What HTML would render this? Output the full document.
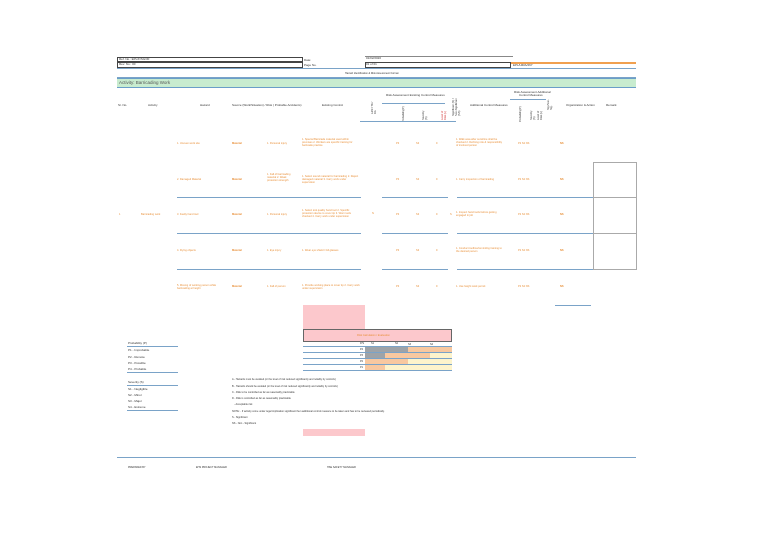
<!DOCTYPE html>
<html><head><meta charset="utf-8"><style>
body{margin:0;width:768px;height:543px;background:#fff;position:relative;overflow:hidden;font-family:"Liberation Sans",sans-serif;}
div{position:absolute;box-sizing:border-box;}
.t{font-size:3px;color:#333;white-space:nowrap;line-height:3px}
.o{font-size:2.6px;color:#e8903a;line-height:3px}
.bl{height:1px;background:#7aa3c8}
.v{writing-mode:vertical-rl;transform:rotate(180deg);font-size:2.6px;color:#333;line-height:3px}
</style></head><body>
<!-- header -->
<div style="left:117px;top:57px;width:186px;height:5px;border:1px solid #444"></div>
<div class="t" style="left:119px;top:58px">Ref. No.: EPL/F/SG/30</div>
<div class="t" style="left:304px;top:59px">Date:</div>
<div style="left:365px;top:56px;width:148px;height:6px;border-top:1px solid #888"></div>
<div class="t" style="left:366px;top:57px">01/02/2020</div>
<div style="left:117px;top:62px;width:186px;height:6px;border:1px solid #444"></div>
<div class="t" style="left:119px;top:63px">Rev. No.: 00</div>
<div class="t" style="left:304px;top:64px">Page No.</div>
<div style="left:365px;top:62px;width:146px;height:6px;border:1px solid #444"></div>
<div class="t" style="left:366px;top:63px">01 of 01</div>
<div style="left:511px;top:62px;width:125px;height:2px;background:#f0a050"></div>
<div class="t" style="left:513px;top:64px">EPL/HIRA/267</div>
<div class="bl" style="left:117px;top:68px;width:519px"></div>
<div class="t" style="left:345px;top:72px;font-size:2.5px">Hazard Identification &amp; Risk Assessment Format</div>
<div class="bl" style="left:117px;top:77px;width:519px"></div>
<div style="left:117px;top:78px;width:519px;height:10px;background:#c8eccf;border-top:1px solid #6a9ec8;border-bottom:1px solid #6a9ec8"></div>
<div class="t" style="left:119px;top:81px;font-size:4.5px;line-height:4px;color:#555">Activity: Barricading Work</div>
<!-- column headers -->
<div class="t" style="left:118px;top:104px">Sr. No.</div>
<div class="t" style="left:148px;top:104px">Activity</div>
<div class="t" style="left:200px;top:104px">Hazard</div>
<div class="t" style="left:232px;top:104px">Source (Work/Situation) / Risk ( Probable Accidents)</div>
<div class="t" style="left:322px;top:104px">Existing Control</div>
<div class="v" style="left:371px;top:98px;height:16px">L&amp;M / TK / RA</div>
<div class="t" style="left:386px;top:94px">Risk Assessment Existing Control Measures</div>
<div class="bl" style="left:382px;top:103px;width:63px"></div>
<div class="v" style="left:402px;top:108px;height:14px">Probability(P)</div>
<div class="v" style="left:422px;top:110px;height:10px">Severity (S)</div>
<div class="v" style="left:441px;top:110px;height:10px;color:#d03030">Level of Risk (L)</div>
<div class="v" style="left:452px;top:94px;height:22px">Significant (S) / Non-Significant (NS)</div>
<div class="t" style="left:470px;top:104px">Additional Control Measures</div>
<div class="t" style="left:514px;top:91px">Risk Assessment Additional</div>
<div class="t" style="left:519px;top:94px">Control Measures</div>
<div class="bl" style="left:510px;top:99px;width:36px"></div>
<div class="v" style="left:519px;top:108px;height:14px">Probability(P)</div>
<div class="v" style="left:530px;top:110px;height:10px">Severity (S)</div>
<div class="v" style="left:537px;top:110px;height:10px">Level of Risk (L)</div>
<div class="v" style="left:547px;top:96px;height:14px">Sig./Non-Sig.</div>
<div class="t" style="left:566px;top:104px">Organization &amp; Action</div>
<div class="t" style="left:606px;top:104px">Remark</div>
<div class="bl" style="left:360px;top:121px;width:96px"></div>
<!-- rows -->
<div class="o" style="left:177px;top:142px">1. Uneven work site</div>
<div class="o" style="left:177px;top:178px">2. Damaged Material</div>
<div class="o" style="left:177px;top:213px">3. Faulty hand tool</div>
<div class="o" style="left:177px;top:249px">4. Flying objects</div>
<div class="o" style="left:177px;top:284px;width:52px;white-space:normal">5. Moving of working person while barricading at height</div>
<div class="o" style="left:232px;top:142px;font-weight:bold">Material</div>
<div class="o" style="left:232px;top:178px;font-weight:bold">Material</div>
<div class="o" style="left:232px;top:213px;font-weight:bold">Material</div>
<div class="o" style="left:232px;top:249px;font-weight:bold">Material</div>
<div class="o" style="left:232px;top:285px;font-weight:bold">Material</div>
<div class="o" style="left:267px;top:142px">1. Personal injury</div>
<div class="o" style="left:267px;top:173px;width:30px;white-space:normal">1. Fall of barricading material 2. Weak protection strength</div>
<div class="o" style="left:267px;top:213px">1. Personal injury</div>
<div class="o" style="left:267px;top:249px">1. Eye injury</div>
<div class="o" style="left:267px;top:285px">1. Fall of person</div>
<div class="o" style="left:302px;top:138px;width:58px;white-space:normal">1. Special Barricade material used within premises 2. Workers are specific training for barricade practice</div>
<div class="o" style="left:302px;top:175px;width:58px;white-space:normal">1. Select sound material for barricading 2. Reject damaged material 3. Carry work under supervision</div>
<div class="o" style="left:302px;top:209px;width:58px;white-space:normal">1. Select tool quality hand tool 2. Specific protection device to cover tip 3. Worn tools checked 4. Carry work under supervision</div>
<div class="o" style="left:302px;top:249px">1. Wear eye shield / full glasses</div>
<div class="o" style="left:302px;top:284px;width:58px;white-space:normal">1. Provide working place to cover tip 2. Carry work under supervision</div>
<div class="o" style="left:119px;top:213px">1</div>
<div class="o" style="left:141px;top:213px">Barricading work</div>
<div class="o" style="left:372px;top:212px">N</div>
<div class="o" style="left:396px;top:142px">P3</div><div class="o" style="left:416px;top:142px">S3</div><div class="o" style="left:436px;top:142px">9</div>
<div class="o" style="left:396px;top:178px">P3</div><div class="o" style="left:416px;top:178px">S3</div><div class="o" style="left:436px;top:178px">9</div>
<div class="o" style="left:396px;top:213px">P3</div><div class="o" style="left:416px;top:213px">S3</div><div class="o" style="left:436px;top:213px">9</div><div class="o" style="left:450px;top:213px">S</div>
<div class="o" style="left:396px;top:249px">P3</div><div class="o" style="left:416px;top:249px">S3</div><div class="o" style="left:436px;top:249px">9</div>
<div class="o" style="left:396px;top:285px">P3</div><div class="o" style="left:416px;top:285px">S3</div><div class="o" style="left:436px;top:285px">9</div>
<div class="o" style="left:456px;top:138px;width:48px;white-space:normal">1. Walk area after sunshine shall be checked 2. Defining role &amp; responsibility of involved person</div>
<div class="o" style="left:456px;top:178px">1. Carry inspection of barricading</div>
<div class="o" style="left:456px;top:211px;width:48px;white-space:normal">1. Inspect hand tools before getting engaged in job</div>
<div class="o" style="left:456px;top:247px;width:50px;white-space:normal">1. Conduct toolbox/reminding training to the desired person</div>
<div class="o" style="left:456px;top:285px">1. Use height work permit</div>
<div class="o" style="left:518px;top:142px">P2 S2 NS</div>
<div class="o" style="left:518px;top:178px">P2 S2 NS</div>
<div class="o" style="left:518px;top:213px">P2 S2 NS</div>
<div class="o" style="left:518px;top:249px">P2 S2 NS</div>
<div class="o" style="left:518px;top:285px">P2 S2 NS</div>
<div class="o" style="left:560px;top:142px;font-weight:bold">NS</div>
<div class="o" style="left:560px;top:178px;font-weight:bold">NS</div>
<div class="o" style="left:560px;top:213px;font-weight:bold">NS</div>
<div class="o" style="left:560px;top:249px;font-weight:bold">NS</div>
<div class="o" style="left:560px;top:285px;font-weight:bold">NS</div>
<div class="bl" style="left:177px;top:197px;width:184px"></div>
<div class="bl" style="left:382px;top:197px;width:66px"></div>
<div class="bl" style="left:457px;top:197px;width:136px"></div>
<div class="bl" style="left:177px;top:233px;width:184px"></div>
<div class="bl" style="left:382px;top:233px;width:66px"></div>
<div class="bl" style="left:457px;top:233px;width:136px"></div>
<div class="bl" style="left:177px;top:269px;width:184px"></div>
<div class="bl" style="left:382px;top:269px;width:66px"></div>
<div class="bl" style="left:457px;top:269px;width:136px"></div>
<div style="left:593px;top:162px;width:44px;height:108px;border:1px solid #aaa"></div>
<div style="left:593px;top:197px;width:44px;height:1px;background:#aaa"></div>
<div style="left:593px;top:233px;width:44px;height:1px;background:#aaa"></div>
<div class="bl" style="left:555px;top:305px;width:36px"></div>
<!-- matrix -->
<div style="left:303px;top:305px;width:62px;height:24px;background:#fcc8cc"></div>
<div style="left:303px;top:329px;width:149px;height:13px;background:#fcc8cc;border:1px solid #666"></div>
<div class="o" style="left:357px;top:334px">Risk Calculation / Evaluation</div>
<div class="t" style="left:360px;top:342px;font-size:2.5px">P/S</div>
<div class="t" style="left:371px;top:342px;font-size:2.5px">S1</div>
<div class="t" style="left:395px;top:342px;font-size:2.5px">S2</div>
<div class="t" style="left:408px;top:343px;font-size:2.5px">S3</div>
<div class="t" style="left:430px;top:343px;font-size:2.5px">S4</div>
<div style="left:365px;top:346px;width:43px;height:6px;background:#9ea3a8"></div>
<div style="left:408px;top:346px;width:44px;height:6px;background:#f8c8a0"></div>
<div style="left:365px;top:352px;width:20px;height:6px;background:#9ea3a8"></div>
<div style="left:385px;top:352px;width:45px;height:6px;background:#f8c8a0"></div>
<div style="left:430px;top:352px;width:22px;height:6px;background:#fdf4cc"></div>
<div style="left:365px;top:358px;width:43px;height:6px;background:#f8c8a0"></div>
<div style="left:408px;top:358px;width:44px;height:6px;background:#fdf4cc"></div>
<div style="left:365px;top:364px;width:20px;height:6px;background:#f8c8a0"></div>
<div style="left:385px;top:364px;width:67px;height:6px;background:#fdf4cc"></div>
<div class="bl" style="left:303px;top:346px;width:149px"></div>
<div class="bl" style="left:303px;top:352px;width:149px"></div>
<div class="bl" style="left:303px;top:358px;width:149px"></div>
<div class="bl" style="left:303px;top:364px;width:149px"></div>
<div class="bl" style="left:303px;top:370px;width:149px"></div>
<div class="t" style="left:360px;top:348px;font-size:2.5px">P4</div>
<div class="t" style="left:360px;top:354px;font-size:2.5px">P3</div>
<div class="t" style="left:360px;top:360px;font-size:2.5px">P2</div>
<div class="t" style="left:360px;top:366px;font-size:2.5px">P1</div>
<!-- legend -->
<div class="t" style="left:128px;top:342px">Probability (P)</div>
<div class="bl" style="left:127px;top:346px;width:51px"></div>
<div class="t" style="left:128px;top:349px">P1 - Improbable</div>
<div class="t" style="left:128px;top:356px">P2 - Remote</div>
<div class="t" style="left:128px;top:362px">P3 - Possible</div>
<div class="t" style="left:128px;top:368px">P4 - Probable</div>
<div class="bl" style="left:127px;top:372px;width:51px"></div>
<div class="t" style="left:128px;top:381px">Severity (S)</div>
<div class="bl" style="left:127px;top:385px;width:51px"></div>
<div class="t" style="left:128px;top:388px">S1 - Negligible</div>
<div class="t" style="left:128px;top:394px">S2 - Minor</div>
<div class="t" style="left:128px;top:400px">S3 - Major</div>
<div class="t" style="left:128px;top:406px">S4 - Extreme</div>
<div class="bl" style="left:127px;top:410px;width:51px"></div>
<div class="t" style="left:232px;top:378px;font-size:2.5px">A - Hazards must be avoided (or the level of risk reduced significantly and reliably by controls)</div>
<div class="t" style="left:232px;top:385px;font-size:2.5px">B - Hazards should be avoided (or the level of risk reduced significantly and reliably by controls)</div>
<div class="t" style="left:232px;top:391px;font-size:2.5px">C - Risk to be controlled as far as reasonably practicable</div>
<div class="t" style="left:232px;top:397px;font-size:2.5px">D - Risk is controlled as far as reasonably practicable</div>
<div class="t" style="left:232px;top:403px;font-size:2.5px">&nbsp;&nbsp;&nbsp;- Acceptable risk</div>
<div class="t" style="left:232px;top:410px;font-size:2.5px">NOTE: - If activity come under legal implication significant then additional control measure to be taken and has to be reviewed periodically.</div>
<div class="t" style="left:232px;top:416px;font-size:2.5px">S - Significant</div>
<div class="t" style="left:232px;top:422px;font-size:2.5px">NS - Non - Significant</div>
<div style="left:303px;top:429px;width:62px;height:7px;background:#fcc8cc"></div>
<!-- footer -->
<div class="bl" style="left:117px;top:457px;width:519px"></div>
<div class="t" style="left:128px;top:466px;font-size:2.5px">PREPARED BY</div>
<div class="t" style="left:196px;top:466px;font-size:2.5px">EHS PROJECT MANAGER</div>
<div class="t" style="left:327px;top:466px;font-size:2.5px">HSE SAFETY MANAGER</div>
</body></html>
